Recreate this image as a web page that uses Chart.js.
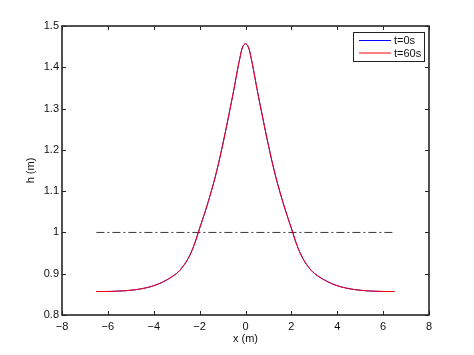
<!DOCTYPE html>
<html>
<head>
<meta charset="utf-8">
<script src="https://cdn.jsdelivr.net/npm/chart.js@4.4.0/dist/chart.umd.min.js"></script>
<style>
  html, body { margin: 0; padding: 0; background: #fff; }
  #wrap { width: 474px; height: 355px; }
</style>
</head>
<body>
<div id="wrap"><canvas id="grafica"></canvas></div>
<script>
// posiciones x (m) y alturas
const xPos = [-6.5, -6, -5.5, -5, -4.5, -4, -3.5, -3, -2.75, -2.5, -2.25, -2, -1.75, -1.5, -1.25, -1, -0.75, -0.5, -0.375, -0.25, -0.125, 0,
              0.125, 0.25, 0.375, 0.5, 0.75, 1, 1.25, 1.5, 1.75, 2, 2.25, 2.5, 2.75, 3, 3.5, 4, 4.5, 5, 5.5, 6, 6.5];
const hT0 = [0.857, 0.857, 0.858, 0.860, 0.864, 0.871, 0.883, 0.901, 0.916, 0.937, 0.968, 1.010, 1.052, 1.098, 1.150, 1.211, 1.278, 1.348, 1.386, 1.421, 1.449, 1.457,
             1.449, 1.421, 1.386, 1.348, 1.278, 1.211, 1.150, 1.098, 1.052, 1.010, 0.968, 0.937, 0.916, 0.901, 0.883, 0.871, 0.864, 0.860, 0.858, 0.857, 0.857];
const hT60 = [0.857, 0.857, 0.858, 0.860, 0.864, 0.871, 0.883, 0.901, 0.916, 0.937, 0.968, 1.010, 1.052, 1.098, 1.150, 1.211, 1.278, 1.348, 1.386, 1.421, 1.449, 1.457,
              1.449, 1.421, 1.386, 1.348, 1.278, 1.211, 1.150, 1.098, 1.052, 1.010, 0.968, 0.937, 0.916, 0.901, 0.883, 0.871, 0.864, 0.860, 0.858, 0.857, 0.857];
// linea de referencia h = 1
const refX = [-6.5, 6.5];
const refH = [1, 1];
const seriesNames = ['t=0s', 't=60s'];
const seriesColors = ['#0000ff', '#ff0000'];

const toPts = (xs, ys) => xs.map((x, i) => ({ x: x, y: ys[i] }));
const fuente = { family: 'Liberation Sans, Arial, sans-serif', size: 11 };

// marcas hacia dentro en los cuatro lados y caja (estilo matlab)
const marcoPlugin = {
    id: 'marco',
    afterDraw(chart) {
        const { ctx, chartArea: a, scales } = chart;
        ctx.save();
        ctx.strokeStyle = '#262626';
        ctx.lineWidth = 1;
        ctx.beginPath();
        scales.x.ticks.forEach(t => {
            const px = Math.round(scales.x.getPixelForValue(t.value)) + 0.5;
            ctx.moveTo(px, a.bottom); ctx.lineTo(px, a.bottom - 4);
            ctx.moveTo(px, a.top); ctx.lineTo(px, a.top + 4);
        });
        scales.y.ticks.forEach(t => {
            const py = Math.round(scales.y.getPixelForValue(t.value)) + 0.5;
            ctx.moveTo(a.left, py); ctx.lineTo(a.left + 4, py);
            ctx.moveTo(a.right, py); ctx.lineTo(a.right - 4, py);
        });
        ctx.stroke();
        ctx.lineWidth = 1.6;
        ctx.strokeRect(a.left, a.top, a.right - a.left, a.bottom - a.top);

        // leyenda
        const lx = 353, ly = 32, lw = 71, lh = 29;
        ctx.fillStyle = '#fff';
        ctx.fillRect(lx, ly, lw, lh);
        ctx.lineWidth = 1;
        ctx.strokeStyle = '#222';
        ctx.strokeRect(lx + 0.5, ly + 0.5, lw, lh);
        ctx.font = '11px ' + fuente.family;
        ctx.textBaseline = 'middle';
        seriesNames.forEach((n, i) => {
            const y = ly + 8.5 + i * 12.5;
            ctx.strokeStyle = seriesColors[i];
            ctx.beginPath();
            ctx.moveTo(lx + 6, y); ctx.lineTo(lx + 38, y);
            ctx.stroke();
            ctx.fillStyle = '#111';
            ctx.fillText(n, lx + 41, y + 0.5);
        });
        ctx.restore();
    }
};

new Chart(document.getElementById('grafica'), {
    type: 'line',
    data: {
        datasets: [
            {
                label: seriesNames[0],
                data: toPts(xPos, hT0),
                borderColor: seriesColors[0],
                borderWidth: 1,
                pointRadius: 0,
                tension: 0.4,
                order: 2
            },
            {
                label: seriesNames[1],
                data: toPts(xPos, hT60),
                borderColor: seriesColors[1],
                borderWidth: 1,
                pointRadius: 0,
                tension: 0.4,
                order: 1
            },
            {
                label: 'ref',
                data: toPts(refX, refH),
                borderColor: '#333',
                borderWidth: 1,
                borderDash: [8, 3, 2, 3],
                pointRadius: 0,
                order: 3
            }
        ]
    },
    options: {
        responsive: true,
        maintainAspectRatio: false,
        animation: false,
        layout: { padding: { top: 26, right: 45, left: 0, bottom: 0 } },
        plugins: {
            legend: { display: false },
            tooltip: { enabled: false }
        },
        scales: {
            x: {
                type: 'linear',
                min: -8,
                max: 8,
                afterFit: s => { s.height = 40; },
                border: { display: false },
                grid: { display: false, drawTicks: false },
                ticks: {
                    stepSize: 2,
                    padding: 5,
                    color: '#111',
                    font: fuente,
                    maxRotation: 0,
                    callback: v => (v < 0 ? '\u2212' + Math.abs(v) : String(v))
                },
                title: { display: true, text: 'x (m)', color: '#111', font: fuente, padding: { top: 0, bottom: 9 } }
            },
            y: {
                min: 0.8,
                max: 1.5,
                afterFit: s => { s.width = 62; },
                border: { display: false },
                grid: { display: false, drawTicks: false },
                ticks: {
                    stepSize: 0.1,
                    padding: 3,
                    color: '#111',
                    font: fuente,
                    callback: v => String(parseFloat(v.toFixed(1)))
                },
                title: { display: true, text: 'h (m)', color: '#111', font: fuente, padding: { top: 24, bottom: 0 } }
            }
        }
    },
    plugins: [marcoPlugin]
});
</script>
</body>
</html>
